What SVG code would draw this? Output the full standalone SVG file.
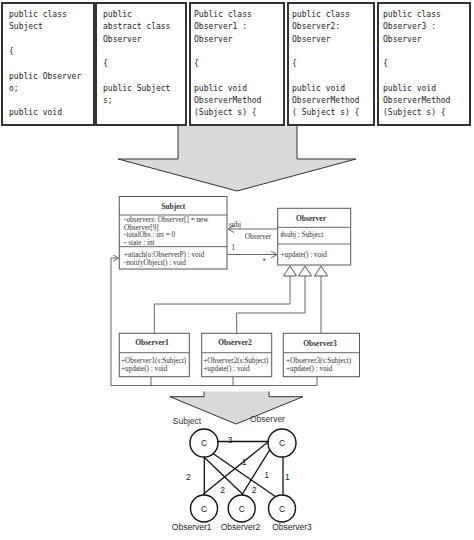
<svg xmlns="http://www.w3.org/2000/svg" width="474" height="540" viewBox="0 0 474 540">
<defs>
<style>
.code{font-family:"DejaVu Sans Mono","Liberation Mono",monospace;font-size:8px;fill:#222}
.cbox{fill:#fff;stroke:#333;stroke-width:2}
.big{fill:#d9d9d9;stroke:none}
.bigl{fill:none;stroke:#333;stroke-width:1}
.uml{fill:#fff;stroke:#555;stroke-width:1}
.ut{font-family:"Liberation Serif","Times New Roman",serif;font-size:7.2px;fill:#333}
.ub{font-family:"Liberation Serif","Times New Roman",serif;font-size:7.5px;font-weight:bold;fill:#333}
.ln{fill:none;stroke:#666;stroke-width:1}
.gn{fill:#fff;stroke:#111;stroke-width:1.4}
.ge{stroke:#111;stroke-width:1.3}
.gt{font-family:"Liberation Sans",Arial,sans-serif;font-size:8.5px;fill:#333}
.gc{font-family:"Liberation Sans",Arial,sans-serif;font-size:8.5px;fill:#222;text-anchor:middle}
</style>
<marker id="open" markerWidth="8" markerHeight="8" refX="6" refY="3.5" orient="auto" markerUnits="userSpaceOnUse">
<path d="M0,0 L6,3.5 L0,7" fill="none" stroke="#666" stroke-width="1"/>
</marker>
</defs>
<rect width="474" height="540" fill="#fff"/>

<!-- code boxes -->
<g id="code1">
<rect class="cbox" x="2" y="3" width="92" height="122"/>
<text class="code" x="9" y="17">public class</text>
<text class="code" x="9" y="29.3">Subject</text>
<text class="code" x="9" y="54">{</text>
<text class="code" x="9" y="78.5">public Observer</text>
<text class="code" x="9" y="90.8">o;</text>
<text class="code" x="9" y="115.4">public void</text>
</g>
<g id="code2">
<rect class="cbox" x="96" y="3" width="90" height="122"/>
<text class="code" x="103" y="17">public</text>
<text class="code" x="103" y="29.3">abstract class</text>
<text class="code" x="103" y="41.6">Observer</text>
<text class="code" x="103" y="66.2">{</text>
<text class="code" x="103" y="90.8">public Subject</text>
<text class="code" x="103" y="103.1">s;</text>
</g>
<g id="code3">
<rect class="cbox" x="190" y="3" width="94" height="122"/>
<text class="code" x="194" y="17">Public class</text>
<text class="code" x="194" y="29.3">Observer1 :</text>
<text class="code" x="194" y="41.6">Observer</text>
<text class="code" x="194" y="66.2">{</text>
<text class="code" x="194" y="90.8">public void</text>
<text class="code" x="194" y="103.1">ObserverMethod</text>
<text class="code" x="194" y="115.4">(Subject s) {</text>
</g>
<g id="code4">
<rect class="cbox" x="288" y="3" width="86" height="122"/>
<text class="code" x="292" y="17">public class</text>
<text class="code" x="292" y="29.3">Observer2:</text>
<text class="code" x="292" y="41.6">Observer</text>
<text class="code" x="292" y="66.2">{</text>
<text class="code" x="292" y="90.8">public void</text>
<text class="code" x="292" y="103.1">ObserverMethod</text>
<text class="code" x="292" y="115.4">( Subject s) {</text>
</g>
<g id="code5">
<rect class="cbox" x="378" y="3" width="92" height="122"/>
<text class="code" x="383" y="17">public class</text>
<text class="code" x="383" y="29.3">Observer3 :</text>
<text class="code" x="383" y="41.6">Observer</text>
<text class="code" x="383" y="66.2">{</text>
<text class="code" x="383" y="90.8">public void</text>
<text class="code" x="383" y="103.1">ObserverMethod</text>
<text class="code" x="383" y="115.4">(Subject s) {</text>
</g>

<!-- big arrows -->
<g id="arrow1">
<polygon class="big" points="178,126 178,159 118,159 237,191 356,159 297,159 297,126"/>
<polyline class="bigl" points="178,126 178,159 118,159 237,191 356,159 297,159 297,126"/>
</g>
<g id="arrow2">
<polygon class="big" points="204,391.5 204,396.7 170,396.7 236,424 303,396.7 269,396.7 269,391.5"/>
<polyline class="bigl" points="204,391.5 204,396.7 170,396.7 236,424 303,396.7 269,396.7 269,391.5"/>
</g>

<!-- UML connectors -->
<g id="uml-connectors">
<line class="ln" x1="277.7" y1="229" x2="228" y2="229" marker-end="url(#open)"/>
<line class="ln" x1="227" y1="254.5" x2="277" y2="254.5" marker-end="url(#open)"/>
<polyline class="ln" points="317,377 317,385.5 111,385.5 111,258 118.5,258" marker-end="url(#open)"/>
<line class="ln" x1="151" y1="377" x2="151" y2="385.5"/>
<line class="ln" x1="233" y1="377" x2="233" y2="385.5"/>
<polyline class="ln" points="290,276 290,304 154.3,304 154.3,333.3"/>
<polyline class="ln" points="305,276 305,313 236.7,313 236.7,333.3"/>
<line class="ln" x1="321" y1="276" x2="321" y2="333.3"/>
<polygon class="uml" points="290,266 283.5,276 296.5,276"/>
<polygon class="uml" points="305,266 298.5,276 311.5,276"/>
<polygon class="uml" points="321,266 314.5,276 327.5,276"/>
<text class="ut" x="229" y="227">subj</text>
<text class="ut" x="258" y="238.5" text-anchor="middle">Observer</text>
<text class="ut" x="231.5" y="250">1</text>
<text class="ut" x="262.5" y="264">*</text>
</g>

<!-- UML classes -->
<g id="uml-subject">
<rect class="uml" x="119.3" y="196.5" width="107.7" height="72.5"/>
<line class="ln" x1="119.3" y1="215" x2="227" y2="215"/>
<line class="ln" x1="119.3" y1="246.7" x2="227" y2="246.7"/>
<text class="ub" x="173.3" y="209" text-anchor="middle">Subject</text>
<text class="ut" x="124" y="221.5">-observers: Observer[] = new</text>
<text class="ut" x="124" y="230">Observer[9]</text>
<text class="ut" x="124" y="237">-totalObs : int = 0</text>
<text class="ut" x="124" y="245">- state : int</text>
<text class="ut" x="124" y="256.8">+attach(o:ObserverP) : void</text>
<text class="ut" x="124" y="265">-notifyObject() : void</text>
</g>
<g id="uml-observer">
<rect class="uml" x="277.7" y="208.3" width="73" height="56.7"/>
<line class="ln" x1="277.7" y1="227.3" x2="350.7" y2="227.3"/>
<line class="ln" x1="277.7" y1="244" x2="350.7" y2="244"/>
<text class="ub" x="311" y="220.8" text-anchor="middle">Observer</text>
<text class="ut" x="280.5" y="237">#subj : Subject</text>
<text class="ut" x="280.5" y="257">+update() : void</text>
</g>
<g id="uml-observer1">
<rect class="uml" x="119.3" y="333.3" width="70" height="43.4"/>
<line class="ln" x1="119.3" y1="352.7" x2="189.3" y2="352.7"/>
<text class="ub" x="152" y="345.3" text-anchor="middle">Observer1</text>
<text class="ut" x="121" y="362.5">+Observer1(s:Subject)</text>
<text class="ut" x="121" y="370.8">+update() : void</text>
</g>
<g id="uml-observer2">
<rect class="uml" x="201.7" y="333.3" width="70" height="43.4"/>
<line class="ln" x1="201.7" y1="352.7" x2="271.7" y2="352.7"/>
<text class="ub" x="235" y="345.3" text-anchor="middle">Observer2</text>
<text class="ut" x="203.3" y="362.5">+Observer2(s:Subject)</text>
<text class="ut" x="203.3" y="370.8">+update() : void</text>
</g>
<g id="uml-observer3">
<rect class="uml" x="283.3" y="333.3" width="76.2" height="43.4"/>
<line class="ln" x1="283.3" y1="352.7" x2="359.5" y2="352.7"/>
<text class="ub" x="320" y="346" text-anchor="middle">Observer3</text>
<text class="ut" x="286" y="362.5">+Observer3(s:Subject)</text>
<text class="ut" x="286" y="370.8">+update() : void</text>
</g>

<!-- graph edges -->
<g id="graph-edges">
<line class="ge" x1="218" y1="441.5" x2="268" y2="441.5"/>
<line class="ge" x1="204.3" y1="457" x2="204.3" y2="495"/>
<line class="ge" x1="283" y1="456.5" x2="283" y2="495"/>
<line class="ge" x1="268.5" y1="441.5" x2="203.5" y2="494"/>
<line class="ge" x1="271.5" y1="447" x2="241.7" y2="495"/>
<line class="ge" x1="205" y1="458" x2="243.5" y2="495"/>
<line class="ge" x1="213" y1="453.5" x2="277.5" y2="498"/>
<text class="gc" x="230" y="443">3</text>
<text class="gc" x="188.3" y="479.5">2</text>
<text class="gc" x="244" y="464.5">1</text>
<text class="gc" x="266.7" y="478">1</text>
<text class="gc" x="287.3" y="479.5">1</text>
<text class="gc" x="222.7" y="493">2</text>
<text class="gc" x="254" y="493">2</text>
</g>

<!-- graph nodes -->
<g id="g-subject">
<circle class="gn" cx="204" cy="443" r="14"/>
<text class="gc" x="204" y="446">C</text>
<text class="gt" x="187" y="424" text-anchor="middle">Subject</text>
</g>
<g id="g-observer">
<circle class="gn" cx="282" cy="443" r="14"/>
<text class="gc" x="282" y="446">C</text>
<text class="gt" x="250" y="421.5">Observer</text>
</g>
<g id="g-observer1">
<circle class="gn" cx="204" cy="508.5" r="13.5"/>
<text class="gc" x="204" y="511.5">C</text>
<text class="gc" x="191.7" y="530">Observer1</text>
</g>
<g id="g-observer2">
<circle class="gn" cx="241.7" cy="508.5" r="13.5"/>
<text class="gc" x="241.7" y="511.5">C</text>
<text class="gc" x="240.5" y="530">Observer2</text>
</g>
<g id="g-observer3">
<circle class="gn" cx="282" cy="508.5" r="13.5"/>
<text class="gc" x="282" y="511.5">C</text>
<text class="gc" x="292" y="530">Observer3</text>
</g>
</svg>
